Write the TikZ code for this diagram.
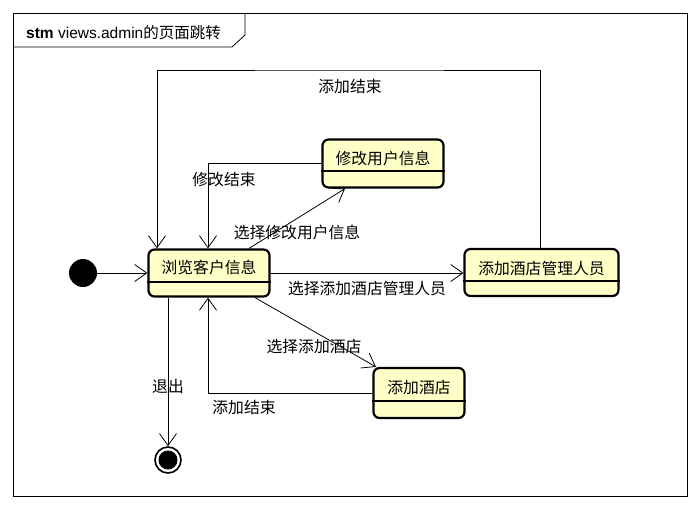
\documentclass[tikz,border=0pt]{standalone}
\usepackage{fontspec}
\setmainfont{Liberation Sans}
\newfontfamily\cjk{Noto Sans CJK SC}
\usetikzlibrary{arrows.meta,calc}
\definecolor{stateyellow}{RGB}{255,255,200}
\begin{document}
\begin{tikzpicture}[x=1pt,y=-1pt,
  state/.style={draw, line width=2.2pt, rounded corners=6pt, fill=stateyellow, inner sep=0pt},
  lbl/.style={font=\cjk\fontsize{15.8}{18}\selectfont, inner sep=0pt},
  edge/.style={line width=0.8pt, -{Straight Barb[length=12pt,width=17pt,line width=0.8pt]}},
  thin/.style={line width=0.8pt}]
\useasboundingbox (0,0) rectangle (700,509);
% frame
\draw[thin] (13,13) rectangle (687,496);
\draw[thin] (13,47) -- (232,47) -- (245,35) -- (245,13);
\node[anchor=base west, inner sep=0pt, font=\fontsize{15.5}{17}\selectfont] (title) at (26,38) {\textbf{stm} views.admin{\cjk 的页面跳转}};
% states
\node[state, minimum width=121pt, minimum height=47pt] (browse) at (209,273) {};
\node[lbl] (browset) at (209,267) {浏览客户信息};
\draw[line width=1.6pt] (browse.west |- 0,282) -- (browse.east |- 0,282);

\node[state, minimum width=121pt, minimum height=48pt] (modify) at (383,163.5) {};
\node[lbl] (modifyt) at (383,158) {修改用户信息};
\draw[line width=1.6pt] (modify.west |- 0,171) -- (modify.east |- 0,171);

\node[state, minimum width=154pt, minimum height=47pt] (mgr) at (541.5,272.5) {};
\node[lbl] (mgrt) at (541.5,268) {添加酒店管理人员};
\draw[line width=1.6pt] (mgr.west |- 0,281) -- (mgr.east |- 0,281);

\node[state, minimum width=91pt, minimum height=50pt] (hotel) at (419,393) {};
\node[lbl] (hotelt) at (419,388) {添加酒店};
\draw[line width=1.6pt] (hotel.west |- 0,401) -- (hotel.east |- 0,401);

% pseudo states
\node[circle, fill=black, minimum size=28pt, inner sep=0pt] (init) at (83,273) {};
\node[circle, draw, line width=1.6pt, fill=white, minimum size=26pt, inner sep=0pt] (final) at (168,460) {};
\node[circle, fill=black, minimum size=19pt, inner sep=0pt] (finalin) at (168,460) {};
\coordinate (top) at (350,70);

% transitions
\draw[edge] (init) -- (browse.west |- init);
\draw[edge] ([xshift=40pt]browse.north) -- ([xshift=-38pt]modify.south);
\node[lbl] (l1) at (297,232) {选择修改用户信息};
\draw[edge] (modify.west) -| ([xshift=-1pt]browse.north);
\node[lbl] (l2) at (224,180) {修改结束};
\draw[edge] ([xshift=-1.5pt]mgr.north) |- (top) -| ([xshift=-52pt]browse.north);
\node[lbl] (l3) at (350,86) {添加结束};
\draw[edge] (browse.east) -- (mgr.west |- browse.east);
\node[lbl] (l4) at (367,288) {选择添加酒店管理人员};
\draw[edge] ([xshift=46pt]browse.south) -- ([xshift=-43pt]hotel.north);
\node[lbl] (l5) at (314,347) {选择添加酒店};
\draw[edge] (hotel.west) -| ([xshift=-1pt]browse.south);
\node[lbl] (l6) at (244,407) {添加结束};
\draw[edge] ([xshift=-41pt]browse.south) -- (final.north);
\node[lbl] (l7) at (168,386) {退出};
\end{tikzpicture}
\end{document}
